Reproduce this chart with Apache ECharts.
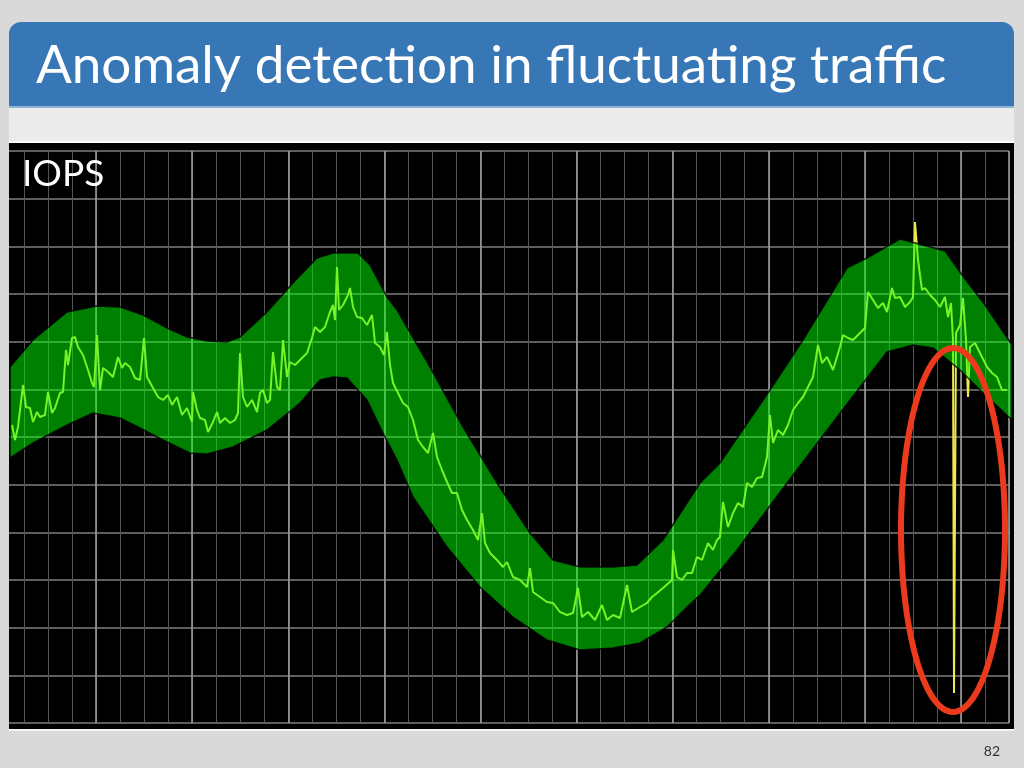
<!DOCTYPE html>
<html><head><meta charset="utf-8">
<script src="https://cdn.jsdelivr.net/npm/echarts@6/dist/echarts.min.js"></script>
<style>html,body{margin:0;padding:0;background:#d9d9d9;}#c{width:1024px;height:768px;}</style>
</head><body><div id="c"></div>
<script>
const titleText = 'Anomaly detection in fluctuating traffic';
const axisName = 'IOPS';
const pageNumber = '82';

// observed traffic [time, IOPS level]
const traffic = [[2,298],[5,283],[8,296],[13,338],[16,316],[20,315],[23,301],[27,311],[30,306],[35,308],[38,331],[42,310],[45,315],[50,330],[53,331],[56,373],[58,358],[62,385],[65,386],[68,376],[73,368],[78,353],[82,340],[84,336],[87,388],[90,333],[93,355],[98,351],[103,346],[108,366],[112,355],[115,360],[120,356],[125,345],[130,343],[134,385],[137,346],[143,335],[148,326],[153,323],[158,328],[162,318],[167,326],[172,308],[177,315],[182,301],[183,331],[187,313],[190,305],[195,303],[198,291],[203,301],[207,311],[210,300],[215,305],[220,300],[225,303],[228,310],[230,370],[233,326],[237,316],[242,323],[247,311],[250,330],[253,333],[257,320],[260,323],[263,371],[267,336],[270,333],[273,383],[277,346],[280,361],[285,358],[290,363],[297,370],[302,385],[305,396],[310,391],[315,396],[320,411],[323,418],[325,403],[327,456],[329,413],[333,418],[338,428],[340,435],[343,416],[347,406],[352,405],[357,398],[362,408],[365,380],[370,376],[374,368],[377,391],[380,358],[383,340],[388,330],[393,320],[398,316],[403,303],[408,283],[413,276],[418,270],[423,290],[427,266],[432,253],[437,241],[442,230],[447,230],[452,213],[457,203],[463,193],[468,183],[472,210],[475,180],[480,170],[487,163],[493,156],[497,161],[503,146],[510,143],[517,136],[520,155],[523,131],[530,126],[537,121],[543,120],[550,111],[557,108],[563,110],[568,135],[572,106],[578,111],[585,103],[592,118],[597,103],[603,108],[610,105],[617,138],[622,111],[630,116],[637,120],[642,126],[647,130],[653,135],[662,143],[663,173],[667,146],[672,143],[677,150],[682,150],[687,166],[692,163],[698,180],[703,173],[707,183],[710,186],[713,221],[718,196],[723,210],[728,220],[733,216],[737,240],[742,236],[747,245],[752,246],[757,266],[760,308],[763,280],[768,293],[773,288],[778,298],[783,313],[788,320],[793,326],[798,336],[803,346],[808,378],[812,360],[817,366],[823,353],[830,376],[833,388],[838,385],[843,383],[850,390],[855,395],[858,431],[863,423],[868,415],[873,420],[877,411],[882,435],[885,425],[890,426],[895,416],[900,421],[903,426],[905,501],[908,463],[912,433],[915,435],[920,428],[925,423],[930,416],[935,426],[938,406],[941,420],[943,383],[944,30],[946,390],[950,398],[953,425],[956,383],[958,326],[960,376],[965,380],[970,370],[977,356],[982,350],[987,346],[992,333],[997,333]];

// expected band limits [time, IOPS level]
const bandUpper = [[0,356],[23,383],[57,411],[87,417],[110,416],[133,408],[157,395],[177,386],[197,382],[217,381],[230,386],[257,411],[283,440],[307,465],[323,470],[348,470],[360,458],[377,426],[387,413],[420,356],[453,296],[487,240],[520,190],[543,163],[570,156],[603,156],[627,158],[653,183],[690,240],[710,260],[760,333],[793,383],[837,455],[857,465],[890,484],[935,472],[952,448],[975,418],[1002,378]];
const bandLower = [[0,265],[23,280],[57,298],[83,310],[110,305],[130,295],[157,281],[180,270],[197,269],[223,276],[257,293],[290,320],[310,343],[323,346],[337,345],[357,323],[373,290],[387,263],[403,226],[437,176],[470,136],[503,106],[537,83],[570,73],[603,75],[630,80],[657,96],[677,116],[690,128],[727,173],[777,240],[827,306],[877,371],[903,378],[923,375],[950,353],[970,333],[1002,303]];

// anomaly highlight: [centre time, centre level, half width, half height]
const anomalyMark = [[943,193,52,182]];

const chart = echarts.init(document.getElementById('c'), null, {renderer:'canvas'});
const hidden = {axisLine:{show:false}, axisTick:{show:false}, axisLabel:{show:false}};
chart.setOption({
  animation:false,
  backgroundColor:'#d9d9d9',
  graphic:{elements:[
    {type:'rect', z:-10, shape:{x:9,y:22,width:1005,height:86,r:[12,12,0,0]}, style:{fill:'#3777b6'}},
    {type:'rect', z:-9, shape:{x:9,y:106,width:1005,height:2}, style:{fill:'#8fb3d6'}},
    {type:'rect', z:-10, shape:{x:9,y:108,width:1005,height:33}, style:{fill:'#ebebeb'}},
    {type:'rect', z:-10, shape:{x:9,y:141,width:1005,height:2}, style:{fill:'#fbfbfb'}},
    {type:'rect', z:-10, shape:{x:9,y:143,width:1005,height:586}, style:{fill:'#000'}},
    {type:'rect', z:-10, shape:{x:9,y:729,width:1005,height:2}, style:{fill:'#f4f4f4'}},
    {type:'rect', z:100, shape:{x:0,y:143,width:9,height:590}, style:{fill:'#d9d9d9'}},
    {type:'text', z:101, x:36, y:66, style:{text:titleText, fill:'#fff', fontSize:53, fontFamily:'Lato', verticalAlign:'middle'}},
    {type:'text', z:101, x:22, y:174, style:{text:axisName, fill:'#fff', fontSize:37, fontFamily:'Lato', verticalAlign:'middle'}},
    {type:'text', z:101, x:1000, y:751, style:{text:pageNumber, fill:'#333', fontSize:14, fontFamily:'Lato', align:'right', verticalAlign:'middle'}}
  ]},
  grid:[
    {left:-1, right:15, top:151, bottom:45},
    {left:10, right:12, top:151, bottom:45}
  ],
  xAxis:[
    Object.assign({gridIndex:0, type:'value', min:0, max:42, interval:1, splitLine:{show:true, lineStyle:{color:'#555555', width:1}}}, hidden),
    Object.assign({gridIndex:0, type:'value', min:0, max:42, interval:4, position:'bottom', splitLine:{show:true, lineStyle:{color:'#a5a5a5', width:1.5}}}, hidden),
    {gridIndex:1, type:'value', min:0, max:1002, show:false}
  ],
  yAxis:[
    Object.assign({gridIndex:0, type:'value', min:0, max:12, interval:1, splitLine:{show:true, lineStyle:{color:'#7e7e7e', width:1.5}}}, hidden),
    {gridIndex:1, type:'value', min:0, max:572, show:false}
  ],
  series:[
    {type:'line', xAxisIndex:2, yAxisIndex:1, data:traffic, showSymbol:false, z:2,
     lineStyle:{color:'#ebe94c', width:2}},
    {type:'custom', xAxisIndex:2, yAxisIndex:1, data:[[0,0]], z:3,
     renderItem:function(params, api){
       const pts = bandUpper.map(p=>api.coord(p)).concat(bandLower.slice().reverse().map(p=>api.coord(p)));
       return {type:'polygon', shape:{points:pts}, style:{fill:'rgba(0,255,0,0.5)', stroke:'rgba(0,0,0,0.8)', lineWidth:1.5}};
     }},
    {type:'custom', xAxisIndex:2, yAxisIndex:1, data:anomalyMark, z:4,
     renderItem:function(params, api){
       const c = api.coord([api.value(0), api.value(1)]);
       const s = api.size([api.value(2), api.value(3)]);
       const pts = [];
       for (let i=0;i<=120;i++){ const a = i/120*Math.PI*2; pts.push([c[0]+s[0]*Math.cos(a), c[1]+s[1]*Math.sin(a)]); }
       return {type:'polygon', shape:{points:pts}, style:{fill:'none', stroke:'#ec3b1c', lineWidth:6}};
     }}
  ]
});
</script></body></html>
